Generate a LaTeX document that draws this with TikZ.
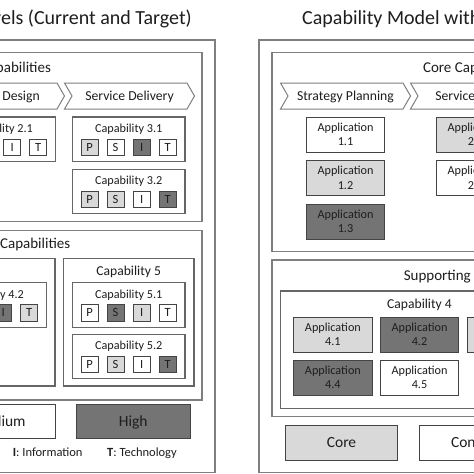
\documentclass[tikz,border=0pt]{standalone}
\usepackage{fontspec}
\setmainfont{Carlito}
\usetikzlibrary{fit}
\definecolor{framegray}{HTML}{7F7F7F}
\definecolor{capline}{HTML}{666666}
\definecolor{boxline}{HTML}{444444}
\definecolor{lightfill}{HTML}{D9D9D9}
\definecolor{darkfill}{HTML}{747474}
\definecolor{txt}{HTML}{1E1E1E}
\newcommand\fsz[1]{\fontsize{#1}{#1}\selectfont}
\newcommand\capframe[4]{%
  \node[capbox, fit={(#2,#3) (#2+112.5,#3+44.4)}] (#1) {};
  \node[captext, anchor=base] (#1-t) at (#2+56.25,#3+15.5) {#4};
}
\newcommand\psitbox[5]{% name, x of block, y of block, slot, fill, letter handled by slot
  \node[psit, fill=#5] (#1) at (#2+17.1+26*#4,#3+30.2) {\ifcase#4 P\or S\or I\or T\fi};
}
\newcommand\capblock[8]{%
  \capframe{#1}{#2}{#3}{#4}
  \psitbox{#1-p}{#2}{#3}{0}{#5}
  \psitbox{#1-s}{#2}{#3}{1}{#6}
  \psitbox{#1-i}{#2}{#3}{2}{#7}
  \psitbox{#1-tt}{#2}{#3}{3}{#8}
}
\newcommand\chevron[3]{%
  \draw[chevline] (#2,83) -- (#2+122.5,83) -- (#2+130,96) -- (#2+122.5,109) -- (#2,109) -- (#2+7.5,96) -- cycle;
  \node[chevtext, anchor=base] (#1) at (#2+65,100.5) {#3};
}
\newcommand\appl[5]{%
  \node[appbox, fill=#4, fit={(#2,#3) (#2+78.4,#3+35)}] (#1) {};
  \node[apptext, anchor=base] (#1-a) at (#2+39.2,#3+14.2) {Application};
  \node[apptext, anchor=base] (#1-n) at (#2+39.2,#3+28.5) {#5};
}
\begin{document}
\begin{tikzpicture}[x=1pt,y=-1pt,
  every node/.style={text=txt},
  frame/.style={draw=framegray, line width=1.8pt, inner sep=0pt, outer sep=0pt},
  group/.style={draw=framegray, line width=1.4pt, inner sep=0pt, outer sep=0pt},
  capbox/.style={draw=capline, line width=1.1pt, inner sep=0pt, outer sep=0pt},
  captext/.style={font=\fsz{12.2}, inner sep=0pt},
  bigcaptext/.style={font=\fsz{13.6}, inner sep=0pt},
  headtext/.style={font=\fsz{15}, inner sep=0pt},
  titletext/.style={font=\fsz{20}, inner sep=0pt},
  psit/.style={draw=boxline, line width=0.9pt, minimum width=16.8pt, minimum height=16.4pt, inner sep=0pt, font=\fsz{12.5}},
  chevline/.style={draw=framegray, line width=1pt, fill=white},
  chevtext/.style={font=\fsz{13.7}, inner sep=0pt},
  appbox/.style={draw=boxline, line width=1pt, inner sep=0pt, outer sep=0pt},
  apptext/.style={font=\fsz{12.2}, inner sep=0pt},
  legbox/.style={draw=boxline, line width=1pt, inner sep=0pt, outer sep=0pt},
  legtext/.style={font=\fsz{15.5}, inner sep=0pt},
  keytext/.style={font=\fsz{12.5}, inner sep=0pt}]
\useasboundingbox (0,0) rectangle (474,474);
\fill[white] (0,0) rectangle (474,474);
\clip (0,0) rectangle (474,474);

% ---------- left panel ----------
\node[titletext, anchor=base east] (ltitle) at (192,24) {Levels (Current and Target)};
\node[frame, fit={(-214.7,40) (215,472.5)}] (lframe) {};
\node[group, fit={(-202,52.7) (202,221.7)}] (lcore) {};
\node[headtext, anchor=base] (lcoret) at (0,72.7) {Core Capabilities};
\chevron{lch2}{-65.5}{Service Design}
\chevron{lch3}{64.5}{Service Delivery}
\capframe{c21}{-57}{117}{Capability 2.1}
\psitbox{c21-i}{-57}{117}{2}{white}
\psitbox{c21-tt}{-57}{117}{3}{white}
\capblock{c31}{72.5}{117}{Capability 3.1}{lightfill}{white}{darkfill}{white}
\capblock{c32}{72.5}{169.3}{Capability 3.2}{lightfill}{lightfill}{white}{darkfill}

\node[group, fit={(-202,230.7) (202,400)}] (lsupp) {};
\node[headtext, anchor=base] (lsuppt) at (0,248) {Supporting Capabilities};
\node[capbox, fit={(-194,258.3) (55,386)}] (lc4) {};
\node[capbox, fit={(63.3,258.3) (194,386)}] (lc5) {};
\node[bigcaptext, anchor=base] (lc5t) at (128.7,275) {Capability 5};
\capframe{c42}{-66}{282.7}{Capability 4.2}
\psitbox{c42-i}{-66}{282.7}{2}{darkfill}
\psitbox{c42-tt}{-66}{282.7}{3}{lightfill}
\capblock{c51}{72.5}{282.7}{Capability 5.1}{white}{darkfill}{lightfill}{white}
\capblock{c52}{72.5}{334.3}{Capability 5.2}{white}{lightfill}{white}{darkfill}

\node[legbox, fill=white, fit={(-57,404) (55,438)}] (lmed) {};
\node[legtext, anchor=base] (lmedt) at (-1,426) {Medium};
\node[legbox, fill=darkfill, fit={(76.7,404) (190,438)}] (lhigh) {};
\node[legtext, anchor=base] (lhight) at (133.3,426) {High};
\node[keytext, anchor=base west] (keyi) at (12.7,456.7) {\textbf{I}: Information};
\node[keytext, anchor=base west] (keyt) at (107,456.7) {\textbf{T}: Technology};

% ---------- right panel ----------
\node[titletext, anchor=base west] (rtitle) at (302,24) {Capability Model with};
\node[frame, fit={(259.3,40) (689,472.5)}] (rframe) {};
\node[group, fit={(272,52.7) (676,251.7)}] (rcore) {};
\node[headtext, anchor=base] (rcoret) at (474,72.7) {Core Capabilities};
\chevron{rch1}{280.5}{Strategy Planning}
\chevron{rch2}{410.5}{Service Design}
\appl{a11}{306.3}{117}{white}{1.1}
\appl{a12}{306.3}{160.5}{lightfill}{1.2}
\appl{a13}{306.3}{204}{darkfill}{1.3}
\appl{a21}{436.3}{117}{lightfill}{2.1}
\appl{a22}{436.3}{160.5}{white}{2.2}

\node[group, fit={(272,260) (676,416.7)}] (rsupp) {};
\node[headtext, anchor=base] (rsuppt) at (474,280.7) {Supporting Capabilities};
\node[capbox, fit={(280.3,291) (558.7,408.3)}] (rc4) {};
\node[bigcaptext, anchor=base] (rc4t) at (419.5,308.3) {Capability 4};
\appl{a41}{293.7}{317.3}{lightfill}{4.1}
\appl{a42}{380.3}{317.3}{darkfill}{4.2}
\appl{a43}{467}{317.3}{lightfill}{4.3}
\appl{a44}{293.7}{360}{darkfill}{4.4}
\appl{a45}{380.3}{360}{white}{4.5}

\node[legbox, fill=lightfill, fit={(285.3,425.7) (397.7,460)}] (rcorel) {};
\node[legtext, anchor=base] (rcorelt) at (341.5,447.7) {Core};
\node[legbox, fill=white, fit={(419.3,425.7) (531.7,460)}] (rctx) {};
\node[legtext, anchor=base] (rctxt) at (475.5,447.7) {Context};
\end{tikzpicture}
\end{document}
